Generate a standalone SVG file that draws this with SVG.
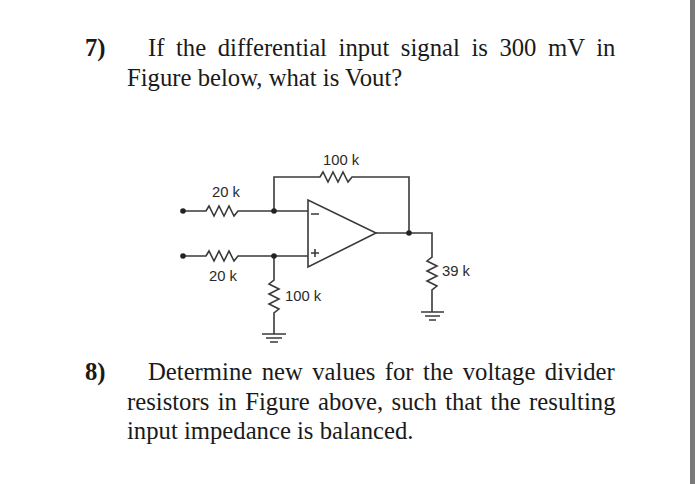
<svg xmlns="http://www.w3.org/2000/svg" width="700" height="484" viewBox="0 0 700 484">
<style>
.t{font-family:"Liberation Serif",serif;font-size:24.7px;fill:#1a1a1a}
.b{font-weight:bold}
.l{font-family:"Liberation Sans",sans-serif;font-size:14.8px;fill:#2a2a2a}
.w{fill:none;stroke:#3a3a3a;stroke-width:1.6}
.d{fill:#222}
</style>
<rect width="700" height="484" fill="#fff"/>
<rect x="690" y="0" width="5" height="484" fill="#7a7a7a"/>
<g id="question-7">
<text class="t b" x="85" y="55.5">7)</text>
<text class="t" x="148" y="55.5" word-spacing="5.4">If the differential input signal is 300 mV in</text>
<text class="t" x="127" y="85.5">Figure below, what is Vout?</text>
</g>
<g id="question-8">
<text class="t b" x="85" y="379.5">8)</text>
<text class="t" x="148" y="379.5" word-spacing="3.3">Determine new values for the voltage divider</text>
<text class="t" x="127" y="409.5" word-spacing="2.2">resistors in Figure above, such that the resulting</text>
<text class="t" x="127" y="438.5">input impedance is balanced.</text>
</g>
<g id="connectors">
<path class="w" d="M183 211H206L209 206L214 216L219 206L224 216L229 206L234 216L238 211H308"/>
<path class="w" d="M183 256H206L209 251L214 261L219 251L224 261L229 251L234 261L238 256H308"/>
<path class="w" d="M274 211V177H320L323 172L328 182L333 172L338 182L343 172L348 182L352 177H409V233"/>
<path class="w" d="M376 233H432V257L427 261L437 266L427 271L437 276L427 281L437 286L432 290V312"/>
<path class="w" d="M274 256V280L269 284L279 289L269 294L279 299L269 304L279 309L274 313V334"/>
</g>
<g id="opamp">
<path class="w" d="M308 200V267L376 233Z" fill="#fff"/>
<path class="w" d="M311 214H319M311 253H319M315 249V257"/>
</g>
<g id="nodes">
<circle class="d" cx="183" cy="211" r="2.8"/>
<circle class="d" cx="183" cy="256" r="2.8"/>
<circle class="d" cx="274" cy="211" r="2.8"/>
<circle class="d" cx="274" cy="256" r="2.8"/>
<circle class="d" cx="409" cy="233" r="2.8"/>
</g>
<g id="ground-left">
<path class="w" d="M262 334H286M266 338H282M270 342H278"/>
</g>
<g id="ground-right">
<path class="w" d="M421 312H444M425 316H440M429 320H436"/>
</g>
<g id="labels">
<text class="l" x="323" y="164.5">100 k</text>
<text class="l" x="212" y="197">20 k</text>
<text class="l" x="209" y="281">20 k</text>
<text class="l" x="285" y="300.5">100 k</text>
<text class="l" x="442" y="276">39 k</text>
</g>
</svg>
